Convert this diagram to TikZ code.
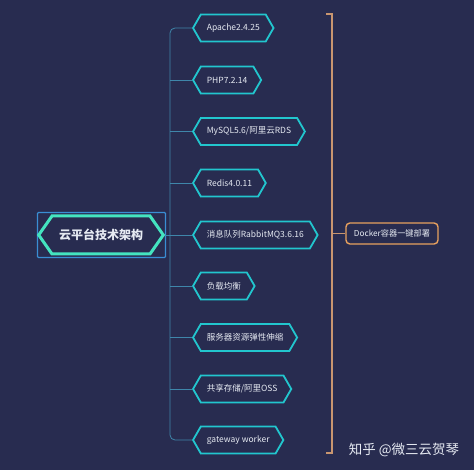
\documentclass[tikz,border=0pt]{standalone}
\usepackage{fontspec}
\newfontfamily\cjk{Noto Sans CJK SC}
\usetikzlibrary{shapes.symbols}
\definecolor{bgnavy}{HTML}{282C50}
\definecolor{leafcyan}{HTML}{22C6CE}
\definecolor{trunkblue}{HTML}{3F86AA}
\definecolor{rootgreen}{HTML}{44E4C0}
\definecolor{framblue}{HTML}{3A8ED4}
\definecolor{brackettan}{HTML}{C99670}
\definecolor{dockorange}{HTML}{E8A15E}
\definecolor{softwhite}{HTML}{E6EAF2}
\tikzset{
  leaf/.style={signal, signal to=west and east, signal pointer angle=120,
    draw=leafcyan, line width=1.8pt, fill=bgnavy, text=softwhite,
    font=\cjk\fontsize{8.5}{10}\selectfont, minimum height=27pt,
    inner xsep=6pt, anchor=west},
  trunk/.style={draw=trunkblue, line width=0.8pt},
}
\begin{document}
\begin{tikzpicture}[x=1pt,y=-1pt]
    \fill[bgnavy] (0,0) rectangle (474,470);
    \useasboundingbox (0,0) rectangle (474,470);
    % root
    \node (rootframe) at (101.5,235) [draw=framblue, line width=1.2pt,
      minimum width=128pt, minimum height=45pt, rounded corners=1pt] {};
    \node (root) at (101,235) [signal, signal to=west and east,
      signal pointer angle=110, draw=rootgreen, line width=3pt,
      fill=bgnavy, text=softwhite, minimum height=38pt, inner xsep=7pt,
      font=\cjk\bfseries\fontsize{12}{14}\selectfont] {云平台技术架构};
    % leaves
  	\node (apache) at (192,28) [leaf] {Apache2.4.25};
  	\node (php) at (192,80) [leaf] {PHP7.2.14};
  	\node (mysql) at (192,131.5) [leaf] {MySQL5.6/阿里云RDS};
  	\node (redis) at (192,183) [leaf] {Redis4.0.11};
  	\node (mq) at (192,235) [leaf] {消息队列RabbitMQ3.6.16};
  	\node (lb) at (192,286) [leaf] {负载均衡};
  	\node (scale) at (192,337.5) [leaf] {服务器资源弹性伸缩};
  	\node (oss) at (192,389) [leaf] {共享存储/阿里OSS};
  	\node (gw) at (192,440) [leaf] {gateway worker};
    % trunk and branches
    \coordinate (fork) at (170,235);
    \draw[trunk, rounded corners=5pt] (apache.west) -| (fork) |- (gw.west);
    \draw[trunk] (root.east) -- (mq.west);
    \draw[trunk] (php.west) -- (php.west -| fork);
    \draw[trunk] (mysql.west) -- (mysql.west -| fork);
    \draw[trunk] (redis.west) -- (redis.west -| fork);
    \draw[trunk] (lb.west) -- (lb.west -| fork);
    \draw[trunk] (scale.west) -- (scale.west -| fork);
    \draw[trunk] (oss.west) -- (oss.west -| fork);
    % bracket and docker
    \coordinate (btop) at (326,14);
    \coordinate (bbot) at (326,453);
    \draw[brackettan, line width=1.4pt] (btop) -- ++(6,0) |- (bbot);
    \node (docker) at (392,233.5) [draw=dockorange, line width=1.4pt,
      rounded corners=4pt, fill=bgnavy, text=softwhite, minimum height=21pt,
      inner xsep=8pt, font=\cjk\fontsize{8.2}{10}\selectfont] {Docker容器一键部署};
    \draw[brackettan, line width=1.2pt] (docker.west -| btop) ++(6,0) -- (docker.west);
    % watermark
    \node (mark) at (404,450) [text=softwhite,
      font=\cjk\fontsize{13.5}{16}\selectfont] {知乎 @微三云贺琴};
  \end{tikzpicture}
\end{document}
